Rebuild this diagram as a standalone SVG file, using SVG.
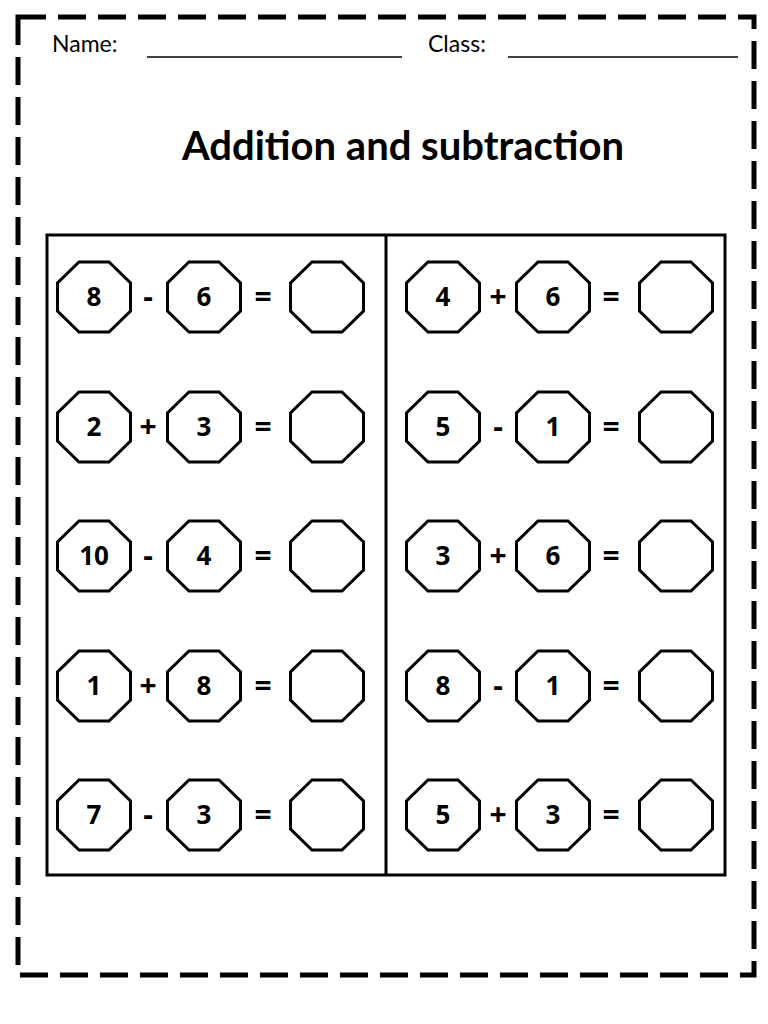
<svg xmlns="http://www.w3.org/2000/svg" width="768" height="1024" viewBox="0 0 768 1024">
<style>
.o{fill:#fff;stroke:#000;stroke-width:3;stroke-linejoin:miter}
.n{font-family:"Open Sans","DejaVu Sans",sans-serif;font-weight:bold;font-size:26px;text-anchor:middle}
.op{font-family:"Open Sans","DejaVu Sans",sans-serif;font-weight:bold;font-size:30px;text-anchor:middle}
.l{font-family:"Lato","Liberation Sans",sans-serif;font-size:23px}
</style>
<defs>
<polygon id="oc" class="o" points="15,-35 36.5,-14 36.5,14 15,35 -15,35 -36.5,14 -36.5,-14 -15,-35"/>
</defs>
<rect x="18" y="17" width="736" height="958" fill="none" stroke="#000" stroke-width="5" stroke-dasharray="28 12"/>
<text class="l" x="52" y="52">Name:</text>
<line x1="147" y1="57" x2="402" y2="57" stroke="#000" stroke-width="1.5"/>
<text class="l" x="428" y="52">Class:</text>
<line x1="508" y1="57" x2="738" y2="57" stroke="#000" stroke-width="1.5"/>
<text x="403" y="160" text-anchor="middle" font-family="Lato,'Liberation Sans',sans-serif" font-weight="bold" font-size="40">Addition and subtraction</text>
<g id="table" fill="none" stroke="#000" stroke-width="3">
<rect x="47" y="235" width="678" height="640"/>
<line x1="386" y1="235" x2="386" y2="875"/>
</g>
<g id="left">
<g transform="translate(0,297)"><use href="#oc" x="94"/><use href="#oc" x="204"/><use href="#oc" x="327"/><text class="n" x="94" y="9">8</text><text class="op" x="148" y="10">-</text><text class="n" x="204" y="9">6</text><text class="op" x="263" y="10">=</text></g>
<g transform="translate(0,427)"><use href="#oc" x="94"/><use href="#oc" x="204"/><use href="#oc" x="327"/><text class="n" x="94" y="9">2</text><text class="op" x="148" y="10">+</text><text class="n" x="204" y="9">3</text><text class="op" x="263" y="10">=</text></g>
<g transform="translate(0,556)"><use href="#oc" x="94"/><use href="#oc" x="204"/><use href="#oc" x="327"/><text class="n" x="94" y="9">10</text><text class="op" x="148" y="10">-</text><text class="n" x="204" y="9">4</text><text class="op" x="263" y="10">=</text></g>
<g transform="translate(0,686)"><use href="#oc" x="94"/><use href="#oc" x="204"/><use href="#oc" x="327"/><text class="n" x="94" y="9">1</text><text class="op" x="148" y="10">+</text><text class="n" x="204" y="9">8</text><text class="op" x="263" y="10">=</text></g>
<g transform="translate(0,815)"><use href="#oc" x="94"/><use href="#oc" x="204"/><use href="#oc" x="327"/><text class="n" x="94" y="9">7</text><text class="op" x="148" y="10">-</text><text class="n" x="204" y="9">3</text><text class="op" x="263" y="10">=</text></g>
</g>
<g id="right">
<g transform="translate(0,297)"><use href="#oc" x="443"/><use href="#oc" x="553"/><use href="#oc" x="676"/><text class="n" x="443" y="9">4</text><text class="op" x="498" y="10">+</text><text class="n" x="553" y="9">6</text><text class="op" x="611" y="10">=</text></g>
<g transform="translate(0,427)"><use href="#oc" x="443"/><use href="#oc" x="553"/><use href="#oc" x="676"/><text class="n" x="443" y="9">5</text><text class="op" x="498" y="10">-</text><text class="n" x="553" y="9">1</text><text class="op" x="611" y="10">=</text></g>
<g transform="translate(0,556)"><use href="#oc" x="443"/><use href="#oc" x="553"/><use href="#oc" x="676"/><text class="n" x="443" y="9">3</text><text class="op" x="498" y="10">+</text><text class="n" x="553" y="9">6</text><text class="op" x="611" y="10">=</text></g>
<g transform="translate(0,686)"><use href="#oc" x="443"/><use href="#oc" x="553"/><use href="#oc" x="676"/><text class="n" x="443" y="9">8</text><text class="op" x="498" y="10">-</text><text class="n" x="553" y="9">1</text><text class="op" x="611" y="10">=</text></g>
<g transform="translate(0,815)"><use href="#oc" x="443"/><use href="#oc" x="553"/><use href="#oc" x="676"/><text class="n" x="443" y="9">5</text><text class="op" x="498" y="10">+</text><text class="n" x="553" y="9">3</text><text class="op" x="611" y="10">=</text></g>
</g>
</svg>
